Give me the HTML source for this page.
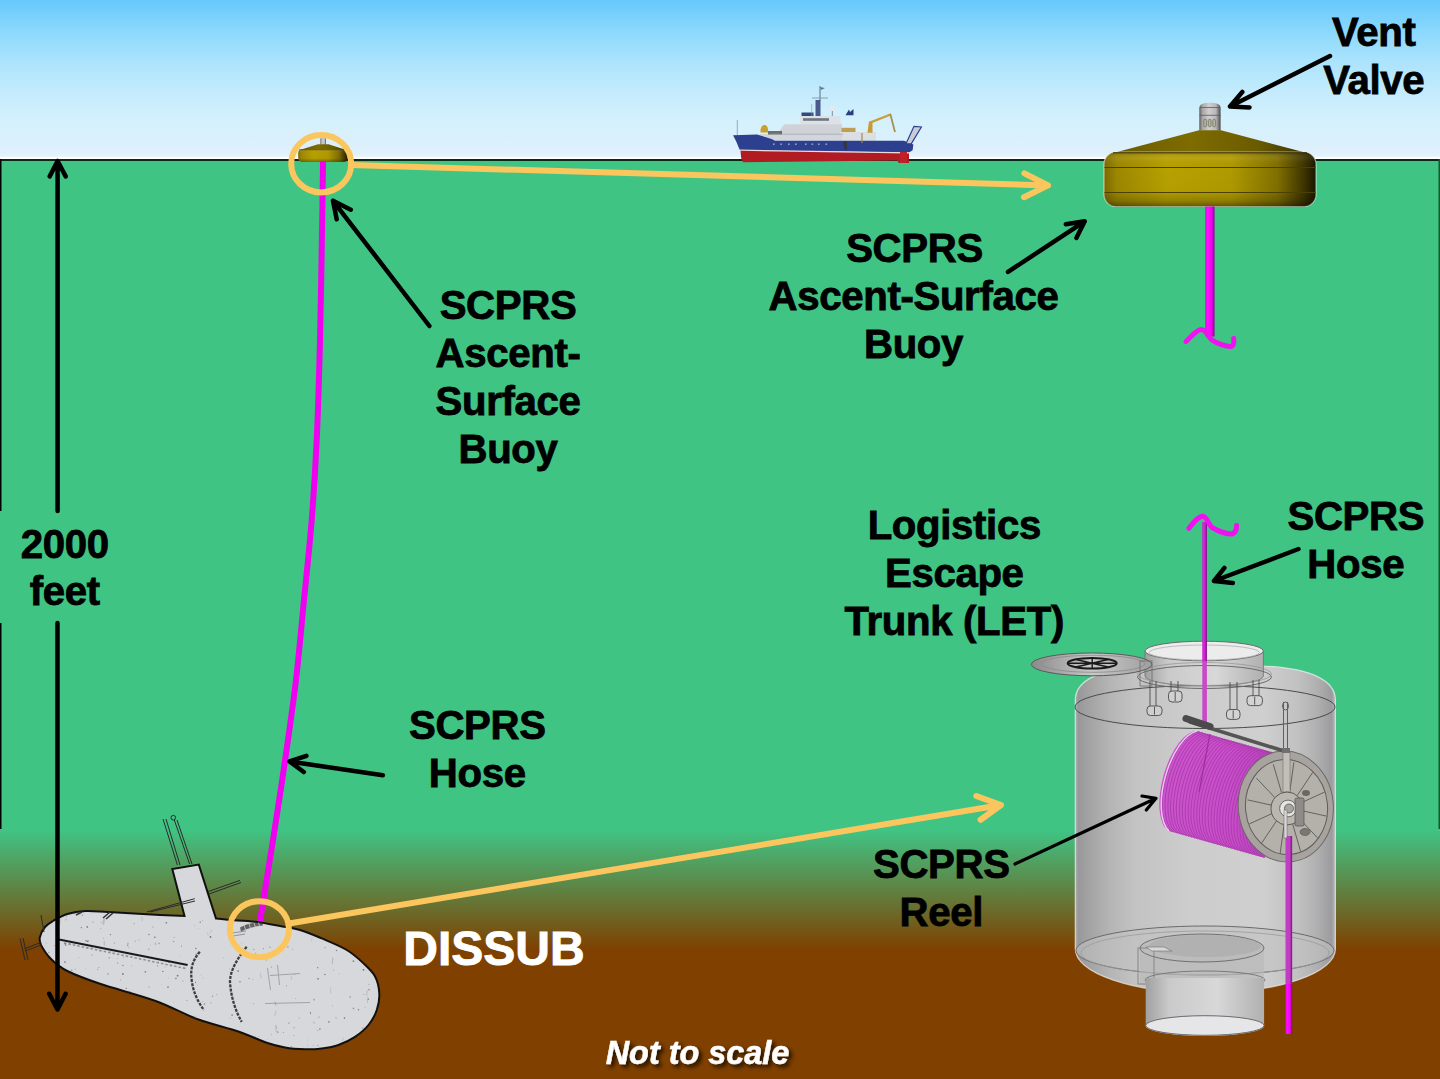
<!DOCTYPE html>
<html><head><meta charset="utf-8">
<style>
html,body{margin:0;padding:0;width:1440px;height:1079px;overflow:hidden;background:#40c484;}
svg{display:block;}
text{font-family:"Liberation Sans",sans-serif;font-weight:bold;}
</style></head>
<body>
<svg width="1440" height="1079" viewBox="0 0 1440 1079">
<defs>
<linearGradient id="sky" x1="0" y1="0" x2="0" y2="1">
<stop offset="0" stop-color="#66c8fc"/>
<stop offset="0.19" stop-color="#8ad8fd"/>
<stop offset="0.38" stop-color="#aae3fc"/>
<stop offset="0.57" stop-color="#c3ebfc"/>
<stop offset="0.76" stop-color="#d4f1fc"/>
<stop offset="0.95" stop-color="#def0fc"/>
<stop offset="0.98" stop-color="#e4f3fc"/>
<stop offset="1" stop-color="#ffffff"/>
</linearGradient>
<linearGradient id="sea" x1="0" y1="0" x2="0" y2="1">
<stop offset="0" stop-color="#40c484"/>
<stop offset="1" stop-color="#7f4000"/>
</linearGradient>

<linearGradient id="buoyg" x1="0" x2="1" y1="0" y2="0">
<stop offset="0" stop-color="#7c6a00"/>
<stop offset="0.06" stop-color="#9c8800"/>
<stop offset="0.3" stop-color="#b7a100"/>
<stop offset="0.6" stop-color="#b09a00"/>
<stop offset="0.82" stop-color="#806f00"/>
<stop offset="0.95" stop-color="#3a3100"/>
<stop offset="1" stop-color="#1a1500"/>
</linearGradient>
<linearGradient id="buoyv" x1="0" x2="0" y1="0" y2="1">
<stop offset="0" stop-color="#000" stop-opacity="0.2"/>
<stop offset="0.12" stop-color="#fff" stop-opacity="0.06"/>
<stop offset="0.3" stop-color="#000" stop-opacity="0"/>
<stop offset="0.72" stop-color="#000" stop-opacity="0.02"/>
<stop offset="0.9" stop-color="#000" stop-opacity="0.2"/>
<stop offset="1" stop-color="#000" stop-opacity="0.45"/>
</linearGradient>
<linearGradient id="coneg" x1="0" x2="1" y1="0" y2="0">
<stop offset="0" stop-color="#6a5a00"/>
<stop offset="0.4" stop-color="#7e6c00"/>
<stop offset="0.75" stop-color="#6a5b00"/>
<stop offset="1" stop-color="#3a3200"/>
</linearGradient>
<linearGradient id="valveg" x1="0" x2="1" y1="0" y2="0">
<stop offset="0" stop-color="#5e5e5e"/>
<stop offset="0.15" stop-color="#a8a6a6"/>
<stop offset="0.45" stop-color="#d0cece"/>
<stop offset="0.78" stop-color="#b8b6b6"/>
<stop offset="1" stop-color="#4a4a4a"/>
</linearGradient>
<linearGradient id="hoseg" x1="0" x2="1" y1="0" y2="0">
<stop offset="0" stop-color="#e000e0"/>
<stop offset="0.25" stop-color="#ff10ff"/>
<stop offset="0.7" stop-color="#f000f0"/>
<stop offset="1" stop-color="#8a0090"/>
</linearGradient>
<linearGradient id="hoseg2" x1="0" x2="1" y1="0" y2="0">
<stop offset="0" stop-color="#c818c8"/>
<stop offset="0.35" stop-color="#e028e0"/>
<stop offset="0.7" stop-color="#c010c8"/>
<stop offset="1" stop-color="#6a1070"/>
</linearGradient>
<linearGradient id="letg" x1="0" x2="1" y1="0" y2="0">
<stop offset="0" stop-color="#b0b0b0"/>
<stop offset="0.012" stop-color="#98989c"/>
<stop offset="0.05" stop-color="#a2a2a2"/>
<stop offset="0.13" stop-color="#b4b4b4"/>
<stop offset="0.23" stop-color="#c3c3c3"/>
<stop offset="0.45" stop-color="#cdcdcd"/>
<stop offset="0.72" stop-color="#cfcfcf"/>
<stop offset="0.85" stop-color="#c2c2c2"/>
<stop offset="0.93" stop-color="#b0b0b0"/>
<stop offset="0.985" stop-color="#9c9ca0"/>
<stop offset="1" stop-color="#b8b8b8"/>
</linearGradient>
<linearGradient id="neckg" x1="0" x2="1" y1="0" y2="0">
<stop offset="0" stop-color="#a0a0a0"/>
<stop offset="0.2" stop-color="#cacaca"/>
<stop offset="0.6" stop-color="#d8d8d8"/>
<stop offset="1" stop-color="#b0b0b0"/>
</linearGradient>
<linearGradient id="lidg" x1="0" x2="1" y1="0" y2="0">
<stop offset="0" stop-color="#8a8a8a"/>
<stop offset="0.5" stop-color="#c8c8c8"/>
<stop offset="1" stop-color="#a0a0a0"/>
</linearGradient>
<linearGradient id="drumg" x1="0" x2="1" y1="0" y2="0">
<stop offset="0" stop-color="#cc54cc"/>
<stop offset="0.5" stop-color="#ca4eca"/>
<stop offset="1" stop-color="#b440b8"/>
</linearGradient>
<filter id="shadow" x="-10%" y="-30%" width="130%" height="180%">
<feGaussianBlur in="SourceAlpha" stdDeviation="2"/>
<feOffset dx="2.5" dy="3" result="b"/>
<feFlood flood-color="#000" flood-opacity="0.75"/>
<feComposite in2="b" operator="in"/>
<feMerge><feMergeNode/><feMergeNode in="SourceGraphic"/></feMerge>
</filter>
<clipPath id="hullclip"><path d="M40.8 944.6 C40.6 943.4 39.1 940.3 39.8 937.4 C40.5 934.5 42.8 929.7 45.0 927.0 C47.2 924.3 49.3 923.2 53.0 921.0 C56.7 918.8 61.9 915.7 67.3 914.0 C72.7 912.3 78.8 911.3 85.6 911.0 C92.4 910.7 98.5 911.5 108.0 912.0 C117.5 912.5 129.9 913.3 142.7 914.0 C155.4 914.7 177.5 915.7 184.5 916.0 L172.3 869 L198.8 864.6 L216 918.5 C218.3 918.8 223.5 919.5 230.0 920.0 C236.5 920.5 246.7 920.7 255.0 921.7 C263.3 922.7 272.5 924.5 280.0 925.9 C287.5 927.3 293.0 927.9 300.0 930.0 C307.0 932.1 314.0 935.1 321.8 938.4 C329.6 941.7 339.9 945.8 346.8 950.0 C353.8 954.2 358.8 958.9 363.5 963.4 C368.2 967.9 372.6 971.7 375.2 976.7 C377.8 981.7 379.0 987.9 379.3 993.4 C379.6 998.9 378.6 1004.7 376.8 1010.0 C375.0 1015.3 372.1 1020.5 368.5 1025.0 C364.9 1029.5 360.0 1033.5 355.0 1036.8 C350.0 1040.1 344.0 1043.0 338.5 1045.0 C333.0 1047.0 327.4 1047.8 321.8 1048.5 C316.2 1049.2 311.1 1049.5 305.0 1049.3 C298.9 1049.1 291.4 1048.6 285.0 1047.5 C278.6 1046.4 274.4 1045.4 266.7 1042.8 C259.0 1040.2 250.6 1035.7 239.0 1031.7 C227.4 1027.7 210.9 1024.1 197.0 1019.0 C183.1 1013.9 171.8 1006.9 155.6 1001.0 C139.4 995.1 114.7 988.8 100.0 983.8 C85.3 978.8 75.5 975.1 67.3 971.0 C59.1 966.9 55.4 963.4 51.0 959.0 C46.6 954.6 42.7 948.2 40.8 944.6 Z"/></clipPath>
</defs>
<!-- background -->
<rect x="0" y="0" width="1440" height="159" fill="url(#sky)"/>
<rect x="0" y="159" width="1440" height="672" fill="#40c484"/>
<rect x="0" y="830" width="1440" height="120" fill="url(#sea)"/>
<rect x="0" y="949" width="1440" height="130" fill="#7f4000"/>
<rect x="0" y="157.2" width="1440" height="1.8" fill="#ffffff"/>
<rect x="0" y="159" width="1440" height="2" fill="#0a2a18"/>
<rect x="0" y="159" width="1.5" height="352" fill="#000"/>
<rect x="0" y="623" width="1.5" height="206" fill="#000"/>
<rect x="1438.5" y="159" width="1.5" height="670" fill="#0a5a30"/>


<!-- ship -->
<g id="ship">
<line x1="737.3" y1="120" x2="737.3" y2="136" stroke="#8898a8" stroke-width="0.8"/>
<line x1="820" y1="86" x2="820" y2="101" stroke="#5a6a8a" stroke-width="1"/>
<path d="M820 87 L825 88 L821 90 Z" fill="#6070a0"/>
<line x1="812" y1="98" x2="828" y2="98" stroke="#7a8aa0" stroke-width="0.8"/>
<rect x="815.5" y="100" width="5" height="16" fill="#4a5a8c"/>
<circle cx="832.3" cy="108.3" r="2.8" fill="#e4e8ec"/>
<line x1="832.3" y1="111" x2="832.3" y2="116.5" stroke="#8090a0" stroke-width="1"/>
<path d="M845.5 115.3 L849 109.5 L850 112 L853.5 109 L853.5 115.3 Z" fill="#2c3e7c"/>
<rect x="801.5" y="112.5" width="12" height="4" fill="#34467e"/>
<path d="M800 116 L840 116 L841 124.5 L800 124.5 Z" fill="#dde0e4"/>
<rect x="803" y="118.2" width="26" height="2.6" fill="#4a5262" opacity="0.75"/>
<path d="M784.5 124.3 L842 124.3 L842 134 L779.5 134 L780 130 Z" fill="#cfd3d7"/>
<path d="M840 132 L876 132 L876 144 L840 144 Z" fill="#dcdfe2"/>

<path d="M757.8 134 L842 134 L842 140.8 L775 140.8 L771.7 138.9 Z" fill="#d2d6da"/>
<rect x="768" y="131" width="14" height="3.5" fill="#3a3a3a" opacity="0.7"/>
<rect x="841.5" y="127.8" width="14" height="4.2" fill="#c0a050"/>
<line x1="771" y1="134.2" x2="843" y2="134.2" stroke="#9aa0a8" stroke-width="0.7"/>
<line x1="811.7" y1="104" x2="811.7" y2="116" stroke="#8a9ab0" stroke-width="0.6"/>
<path d="M733 135.2 L757 134.5 L771.7 138.9 L775 140.8 L904 140.8 L913.4 144.6 L912.6 150.3 L909 152.5 L740 150.3 C737.5 145 736 140 733 135.2 Z" fill="#2d3f8f"/>
<path d="M740 149.6 L909 152.3 L909 153.6 L740.5 151 Z" fill="#eedada"/>
<path d="M740.5 150.8 L909 153.5 L909 163 L899 163 L897 160.5 L743 162.3 L741.2 158 Z" fill="#b01c22"/>
<rect x="900" y="152" width="7" height="11" fill="#c02028"/>
<g fill="#e8ecf4" opacity="0.8">
<rect x="773" y="143.6" width="1.6" height="1.1"/><rect x="780.3" y="143.6" width="1.6" height="1.1"/><rect x="788" y="143.6" width="1.6" height="1.1"/><rect x="795" y="143.6" width="1.6" height="1.1"/><rect x="805" y="143.6" width="1.6" height="1.1"/><rect x="811.5" y="143.6" width="1.6" height="1.1"/><rect x="818" y="143.6" width="1.6" height="1.1"/><rect x="825.5" y="143.6" width="1.6" height="1.1"/>
</g>
<path d="M760.5 132.6 C760 128 762 125 764.5 125 C767 125 768.5 128 768 132.6 Z" fill="#c8a030"/>
<path d="M867.4 132.8 L869 121.5 L872.5 121.5 L872.5 132.8 Z" fill="#c89a38"/>
<path d="M869.6 121.5 L890.7 113.2 L891 115.5 L871 123.5 Z" fill="#c8a040"/>
<line x1="890.3" y1="114" x2="895" y2="132" stroke="#a89050" stroke-width="1.8"/>
<line x1="862" y1="133" x2="862" y2="143" stroke="#9a8a60" stroke-width="1.2"/>
<path d="M906 143.8 L914 126.3 L921.4 127 L911.2 143.8 Z" fill="#c8ccd8" stroke="#2d3f8f" stroke-width="1.2"/>
<path d="M843 144 C843 141 846 140 847 142 L847 150 L845 150 Z" fill="#303848"/>
</g>

<!-- small buoy -->
<g id="sbuoy">
<rect x="320.4" y="137.8" width="5.6" height="7.5" rx="1.5" fill="url(#valveg)"/>
<path d="M318 144.3 L328.5 144.3 L345.5 149.8 L300.5 149.8 Z" fill="url(#coneg)"/>
<rect x="298.2" y="149.2" width="49.6" height="12.6" rx="4" fill="url(#buoyg)"/>
<rect x="298.2" y="149.2" width="49.6" height="12.6" rx="4" fill="url(#buoyv)"/>
<line x1="299" y1="149.8" x2="347" y2="149.8" stroke="#3a3000" stroke-width="0.6"/>
</g>
<!-- left hose -->
<path d="M323.0 161.0 C322.9 167.5 323.0 170.2 322.5 200.0 C322.0 229.8 321.0 300.0 320.0 340.0 C319.0 380.0 318.1 410.0 316.7 440.0 C315.3 470.0 313.9 492.2 311.7 520.0 C309.5 547.8 305.9 580.3 303.3 607.0 C300.7 633.7 299.0 654.5 296.0 680.0 C293.0 705.5 288.9 733.3 285.1 760.0 C281.3 786.7 277.3 812.7 273.0 840.0 C268.7 867.3 261.8 910.0 259.5 924.0" fill="none" stroke="#f000f0" stroke-width="6"/>

<!-- big buoy -->
<g id="bbuoy">
<path d="M1199.3 130.5 L1199.3 108 C1199.3 104.5 1203 102.7 1210 102.7 C1217 102.7 1220.6 104.5 1220.6 108 L1220.6 130.5 Z" fill="url(#valveg)"/>
<path d="M1200 107.5 L1220 107.5 M1199.5 115.3 L1220.5 115.3" stroke="#5a5a5a" stroke-width="0.8"/>
<g fill="#b4b49a" stroke="#6a6a60" stroke-width="0.7"><rect x="1203.8" y="119.3" width="2.8" height="7.5" rx="1.3"/><rect x="1208.3" y="119.3" width="2.8" height="7.5" rx="1.3"/><rect x="1212.8" y="119.3" width="2.8" height="7.5" rx="1.3"/></g>
<path d="M1199 130.3 L1221 130.3 L1306 152.8 L1114 152.8 Z" fill="url(#coneg)"/>
<rect x="1104" y="152" width="212" height="54.5" rx="12" fill="url(#buoyg)" stroke="#ffffff" stroke-opacity="0.55" stroke-width="1.2"/>
<rect x="1104" y="152" width="212" height="54.5" rx="12" fill="url(#buoyv)"/>
<path d="M1113 152.8 L1307 152.8" stroke="#3a3000" stroke-width="1"/>
<path d="M1104.5 167.5 L1315.5 167.5 M1104.5 192.5 L1315.5 192.5" stroke="#4a4000" stroke-width="1"/>
</g>
<!-- right upper hose -->
<rect x="1205.3" y="206.5" width="9.2" height="130" fill="url(#hoseg)"/>
<path d="M1186 341.5 C1191 337 1196 330 1201 329.5 C1206 329 1208 337 1212 340 C1217 343.5 1226 346.5 1231 346.5 C1234 346 1234 342 1233.7 338.5" fill="none" stroke="#f010f0" stroke-width="5" stroke-linecap="round"/>

<!-- LET -->
<g id="let">
<path d="M1075.3 700 C1075.3 681 1098 668 1150 666 L1262 666 C1312 668 1335.4 681 1335.4 700 L1335.4 949 A130 44 0 0 1 1075.3 949 Z" fill="url(#letg)" stroke="#f4f4f4" stroke-opacity="0.7" stroke-width="1.2"/>
<!-- dome seam -->
<ellipse cx="1205" cy="707" rx="130" ry="21.5" fill="none" stroke="#4a4a4a" stroke-width="1"/>
<!-- bottom seam & interior -->
<ellipse cx="1205" cy="950.5" rx="129" ry="24.5" fill="#c2c2c2" fill-opacity="0.6" stroke="#6a6a6a" stroke-width="1"/>
<ellipse cx="1205" cy="953" rx="124" ry="22" fill="none" stroke="#9a9a9a" stroke-width="0.8"/>
<!-- inner bottom hatch -->
<path d="M1140 950 L1140 985 L1264 985 L1264 950 Z" fill="#b8b8b8" opacity="0.6"/>
<ellipse cx="1202" cy="948" rx="62" ry="14" fill="#bcbcbc" stroke="#707070" stroke-width="1"/>
<ellipse cx="1205" cy="946" rx="56" ry="11" fill="#aaaaaa" opacity="0.6"/>
<rect x="1138" y="948" width="16" height="36" fill="none" stroke="#7a7a7a" stroke-width="0.8"/>
<path d="M1146 947 L1164 947 L1172 951 L1152 951 Z" fill="#d8d8d8" stroke="#707070" stroke-width="0.6"/>
<ellipse cx="1205" cy="980" rx="60" ry="9" fill="none" stroke="#6a6a6a" stroke-width="0.8"/>
<!-- bottom nozzle -->
<path d="M1145.7 978 L1145.7 1026 A59.2 10 0 0 0 1264.1 1026 L1264.1 978 Z" fill="url(#neckg)"/>
<ellipse cx="1204.9" cy="1025.5" rx="59.2" ry="9.8" fill="#e6e6e8" stroke="#6a6a6a" stroke-width="1"/>
<!-- top neck -->
<path d="M1145 651 L1145 676 A59.2 10 0 0 0 1263.4 676 L1263.4 651 Z" fill="url(#neckg)" stroke="#707070" stroke-width="0.8"/>
<ellipse cx="1204.2" cy="651" rx="59.2" ry="9.8" fill="#ececec" stroke="#6a6a6a" stroke-width="1"/>
<ellipse cx="1204.2" cy="652.5" rx="55" ry="7.5" fill="none" stroke="#b0b0b0" stroke-width="0.8"/>
<ellipse cx="1204.5" cy="677" rx="67" ry="11.5" fill="none" stroke="#6a6a6a" stroke-width="1"/>
<ellipse cx="1204.5" cy="674" rx="67" ry="11.5" fill="none" stroke="#909090" stroke-width="0.7"/>
<!-- legs -->
<g fill="none" stroke="#4a4a4a" stroke-width="0.9">
<path d="M1150.0 681.0 L1150.0 706.0 M1156.0 681.0 L1156.0 706.0"/>
<rect x="1147.0" y="706.0" width="15.0" height="9.5" rx="3.5" fill="#d8d8d8" fill-opacity="0.5"/>
<path d="M1154.5 707.0 L1154.5 714.5"/>
<path d="M1171.0 681.0 L1171.0 691.0 M1178.0 681.0 L1178.0 691.0"/>
<rect x="1168.5" y="691.0" width="13.5" height="11.0" rx="3.5" fill="#d8d8d8" fill-opacity="0.5"/>
<path d="M1175.2 692.0 L1175.2 701.0"/>
<path d="M1230.0 682.0 L1230.0 709.5 M1237.0 682.0 L1237.0 709.5"/>
<rect x="1226.5" y="709.5" width="13.5" height="9.9" rx="3.5" fill="#d8d8d8" fill-opacity="0.5"/>
<path d="M1233.2 710.5 L1233.2 718.4"/>
<path d="M1253.0 680.0 L1253.0 695.7 M1259.0 680.0 L1259.0 695.7"/>
<rect x="1247.0" y="695.7" width="15.4" height="9.9" rx="3.5" fill="#d8d8d8" fill-opacity="0.5"/>
<path d="M1254.7 696.7 L1254.7 704.6"/>
</g>
<!-- hatch lid -->
<ellipse cx="1091.6" cy="664.4" rx="60.3" ry="11.4" fill="url(#lidg)" stroke="#5a5a5a" stroke-width="1"/>
<ellipse cx="1093" cy="663.8" rx="52" ry="8.5" fill="none" stroke="#8a8a8a" stroke-width="0.8"/>
<ellipse cx="1092.2" cy="663.2" rx="24.5" ry="5.3" fill="none" stroke="#1a1a1a" stroke-width="2"/>
<path d="M1068 663.2 L1116.5 663.2 M1092.2 658 L1092.2 668.5 M1076 659.5 L1108 667 M1076 667 L1108 659.5" stroke="#1a1a1a" stroke-width="1.4"/>
<rect x="1140" y="661" width="12" height="25" fill="none" stroke="#6a6a6a" stroke-width="0.8"/>
</g>

<rect x="1202.3" y="522" width="4.6" height="140" fill="url(#hoseg2)"/>
<rect x="1202.3" y="661" width="4.6" height="62" fill="#c84ac8"/>
<!-- reel -->
<g id="reel">
<path d="M1197.0 731.1 L1293.0 758.1 L1265.0 857.9 L1169.0 830.9 A22.0 52.0 15.7 0 1 1197.0 731.1 Z" fill="url(#drumg)"/>
<path d="M1199.9 731.9 A22.0 52.0 15.7 0 0 1171.8 831.7 M1202.8 732.7 A22.0 52.0 15.7 0 0 1174.7 832.5 M1205.7 733.5 A22.0 52.0 15.7 0 0 1177.6 833.3 M1208.6 734.3 A22.0 52.0 15.7 0 0 1180.5 834.2 M1211.4 735.1 A22.0 52.0 15.7 0 0 1183.4 835.0 M1214.3 735.9 A22.0 52.0 15.7 0 0 1186.2 835.8 M1217.2 736.8 A22.0 52.0 15.7 0 0 1189.1 836.6 M1220.1 737.6 A22.0 52.0 15.7 0 0 1192.0 837.4 M1223.0 738.4 A22.0 52.0 15.7 0 0 1194.9 838.2 M1225.8 739.2 A22.0 52.0 15.7 0 0 1197.8 839.0 M1228.7 740.0 A22.0 52.0 15.7 0 0 1200.6 839.8 M1231.6 740.8 A22.0 52.0 15.7 0 0 1203.5 840.6 M1234.5 741.6 A22.0 52.0 15.7 0 0 1206.4 841.4 M1237.4 742.4 A22.0 52.0 15.7 0 0 1209.3 842.3 M1240.2 743.2 A22.0 52.0 15.7 0 0 1212.2 843.1 M1243.1 744.0 A22.0 52.0 15.7 0 0 1215.0 843.9 M1246.0 744.9 A22.0 52.0 15.7 0 0 1217.9 844.7 M1248.9 745.7 A22.0 52.0 15.7 0 0 1220.8 845.5 M1251.8 746.5 A22.0 52.0 15.7 0 0 1223.7 846.3 M1254.6 747.3 A22.0 52.0 15.7 0 0 1226.6 847.1 M1257.5 748.1 A22.0 52.0 15.7 0 0 1229.4 847.9 M1260.4 748.9 A22.0 52.0 15.7 0 0 1232.3 848.7 M1263.3 749.7 A22.0 52.0 15.7 0 0 1235.2 849.5 M1266.2 750.5 A22.0 52.0 15.7 0 0 1238.1 850.4 M1269.0 751.3 A22.0 52.0 15.7 0 0 1241.0 851.2 M1271.9 752.1 A22.0 52.0 15.7 0 0 1243.8 852.0 M1274.8 753.0 A22.0 52.0 15.7 0 0 1246.7 852.8 M1277.7 753.8 A22.0 52.0 15.7 0 0 1249.6 853.6 M1280.6 754.6 A22.0 52.0 15.7 0 0 1252.5 854.4 M1283.4 755.4 A22.0 52.0 15.7 0 0 1255.4 855.2 M1286.3 756.2 A22.0 52.0 15.7 0 0 1258.2 856.0 M1289.2 757.0 A22.0 52.0 15.7 0 0 1261.1 856.8 M1292.1 757.8 A22.0 52.0 15.7 0 0 1264.0 857.6" fill="none" stroke="#a236a6" stroke-width="1" opacity="0.75"/>
<path d="M1197.0 731.1 A23.0 53.0 15.7 0 0 1169.0 830.9" fill="none" stroke="#f0e4f0" stroke-width="1.4" opacity="0.85"/>
<line x1="1210" y1="734" x2="1199" y2="792" stroke="#9a309a" stroke-width="1.2"/>
<!-- flange -->
<ellipse cx="1285.8" cy="806.5" rx="47.5" ry="55.5" transform="rotate(-6 1285.8 806.5)" fill="#a8a39e" stroke="#6a6a66" stroke-width="1"/>
<ellipse cx="1286.5" cy="807" rx="41" ry="47.5" transform="rotate(-6 1286.5 807)" fill="#b4b0aa" stroke="#5e5e5a" stroke-width="1"/>
<g stroke="#5a5a56" stroke-width="0.9"><line x1="1302.8" y1="810.9" x2="1326.4" y2="816.1"/><line x1="1299.3" y1="818.6" x2="1317.6" y2="837.9"/><line x1="1292.5" y1="823.5" x2="1300.7" y2="851.7"/><line x1="1284.2" y1="824.2" x2="1280.1" y2="853.8"/><line x1="1276.7" y1="820.6" x2="1261.3" y2="843.6"/><line x1="1272.0" y1="813.6" x2="1249.4" y2="823.9"/><line x1="1271.2" y1="805.1" x2="1247.6" y2="799.9"/><line x1="1274.7" y1="797.4" x2="1256.4" y2="778.1"/><line x1="1281.5" y1="792.5" x2="1273.3" y2="764.3"/><line x1="1289.8" y1="791.8" x2="1293.9" y2="762.2"/><line x1="1297.3" y1="795.4" x2="1312.7" y2="772.4"/><line x1="1302.0" y1="802.4" x2="1324.6" y2="792.1"/></g>
<rect x="1283" y="752" width="7" height="40" fill="#c2beb8" stroke="#77746f" stroke-width="0.6"/>
<ellipse cx="1287" cy="808.5" rx="16" ry="16.5" fill="#bab6b0" stroke="#5a5a56" stroke-width="1"/>
<circle cx="1288" cy="808.5" r="8.4" fill="#e6e4e0" stroke="#6a6a66" stroke-width="1"/>
<circle cx="1289" cy="808.5" r="4.5" fill="#a8a6a2" stroke="#555" stroke-width="0.8"/>
<rect x="1295" y="798" width="9" height="28" rx="1.5" fill="#8e8c88" stroke="#444" stroke-width="0.6"/>
<ellipse cx="1306" cy="793" rx="4" ry="3" fill="#6a6864"/>
<ellipse cx="1305" cy="832" rx="5" ry="3.5" fill="#7a7874" stroke="#444" stroke-width="0.5"/>
<!-- top rod -->
<path d="M1190 722 L1284 751" stroke="#555555" stroke-width="3.6" stroke-linecap="round"/>
<path d="M1186 718.5 L1210 726.5" stroke="#4a4a4a" stroke-width="7" stroke-linecap="round"/>
<!-- turnbuckle -->
<path d="M1283.5 702 L1283.5 748 M1287.5 702 L1287.5 748" stroke="#606060" stroke-width="1"/>
<ellipse cx="1285.5" cy="706" rx="3" ry="4" fill="none" stroke="#606060" stroke-width="1"/>
<rect x="1282" y="748" width="8" height="5" fill="#707070"/>
</g>
<!-- LET hoses -->
<rect x="1285.5" y="836" width="6.6" height="150" fill="#c23cc6"/>
<rect x="1290.6" y="836" width="1.5" height="150" fill="#7a2a80"/>
<rect x="1285.5" y="984" width="6.6" height="50" fill="url(#hoseg)"/>
<rect x="1284" y="810" width="3" height="28" fill="#d8d8d8" stroke="#666" stroke-width="0.5"/>
<path d="M1188.8 528.4 C1193 523 1198 516.5 1202.8 516.3 C1207 516.5 1208 524 1212 527.5 C1218 531 1226 534 1232 534 C1235.5 533 1236.6 529 1236.6 525.6" fill="none" stroke="#f010f0" stroke-width="5" stroke-linecap="round"/>

<!-- submarine -->
<g id="sub">
<path d="M40.8 944.6 C40.6 943.4 39.1 940.3 39.8 937.4 C40.5 934.5 42.8 929.7 45.0 927.0 C47.2 924.3 49.3 923.2 53.0 921.0 C56.7 918.8 61.9 915.7 67.3 914.0 C72.7 912.3 78.8 911.3 85.6 911.0 C92.4 910.7 98.5 911.5 108.0 912.0 C117.5 912.5 129.9 913.3 142.7 914.0 C155.4 914.7 177.5 915.7 184.5 916.0 L172.3 869 L198.8 864.6 L216 918.5 C218.3 918.8 223.5 919.5 230.0 920.0 C236.5 920.5 246.7 920.7 255.0 921.7 C263.3 922.7 272.5 924.5 280.0 925.9 C287.5 927.3 293.0 927.9 300.0 930.0 C307.0 932.1 314.0 935.1 321.8 938.4 C329.6 941.7 339.9 945.8 346.8 950.0 C353.8 954.2 358.8 958.9 363.5 963.4 C368.2 967.9 372.6 971.7 375.2 976.7 C377.8 981.7 379.0 987.9 379.3 993.4 C379.6 998.9 378.6 1004.7 376.8 1010.0 C375.0 1015.3 372.1 1020.5 368.5 1025.0 C364.9 1029.5 360.0 1033.5 355.0 1036.8 C350.0 1040.1 344.0 1043.0 338.5 1045.0 C333.0 1047.0 327.4 1047.8 321.8 1048.5 C316.2 1049.2 311.1 1049.5 305.0 1049.3 C298.9 1049.1 291.4 1048.6 285.0 1047.5 C278.6 1046.4 274.4 1045.4 266.7 1042.8 C259.0 1040.2 250.6 1035.7 239.0 1031.7 C227.4 1027.7 210.9 1024.1 197.0 1019.0 C183.1 1013.9 171.8 1006.9 155.6 1001.0 C139.4 995.1 114.7 988.8 100.0 983.8 C85.3 978.8 75.5 975.1 67.3 971.0 C59.1 966.9 55.4 963.4 51.0 959.0 C46.6 954.6 42.7 948.2 40.8 944.6 Z" fill="#d6d8dc" stroke="#111" stroke-width="2"/>
<g clip-path="url(#hullclip)" fill="#2a2a2a"><circle cx="152.8" cy="926.9" r="0.71" opacity="0.28"/><circle cx="223.4" cy="958.0" r="0.38" opacity="0.43"/><circle cx="57.5" cy="967.9" r="0.39" opacity="0.28"/><circle cx="186.4" cy="1024.9" r="0.42" opacity="0.33"/><circle cx="253.9" cy="1042.4" r="0.67" opacity="0.39"/><circle cx="370.1" cy="911.8" r="0.82" opacity="0.35"/><circle cx="93.0" cy="922.1" r="0.52" opacity="0.54"/><circle cx="105.2" cy="989.3" r="0.70" opacity="0.38"/><circle cx="227.4" cy="914.1" r="0.38" opacity="0.32"/><circle cx="271.6" cy="967.0" r="0.52" opacity="0.45"/><circle cx="195.9" cy="948.5" r="0.79" opacity="0.49"/><circle cx="126.3" cy="988.3" r="0.64" opacity="0.56"/><circle cx="287.9" cy="946.8" r="0.89" opacity="0.29"/><circle cx="184.2" cy="1014.8" r="0.43" opacity="0.42"/><circle cx="58.1" cy="1001.9" r="0.77" opacity="0.45"/><circle cx="336.5" cy="950.5" r="0.73" opacity="0.46"/><circle cx="238.1" cy="971.1" r="0.81" opacity="0.58"/><circle cx="202.9" cy="1001.3" r="0.38" opacity="0.50"/><circle cx="260.5" cy="1049.0" r="0.80" opacity="0.35"/><circle cx="173.5" cy="1002.0" r="0.36" opacity="0.41"/><circle cx="101.0" cy="922.0" r="0.38" opacity="0.52"/><circle cx="88.1" cy="940.9" r="0.57" opacity="0.55"/><circle cx="71.8" cy="970.1" r="0.65" opacity="0.56"/><circle cx="317.8" cy="1030.3" r="0.50" opacity="0.40"/><circle cx="164.5" cy="1033.2" r="0.88" opacity="0.30"/><circle cx="103.7" cy="938.6" r="0.48" opacity="0.42"/><circle cx="241.2" cy="943.1" r="0.35" opacity="0.40"/><circle cx="168.0" cy="987.1" r="0.87" opacity="0.49"/><circle cx="216.7" cy="994.6" r="0.72" opacity="0.27"/><circle cx="344.5" cy="1018.1" r="0.83" opacity="0.53"/><circle cx="175.7" cy="962.9" r="0.41" opacity="0.47"/><circle cx="65.7" cy="914.8" r="0.46" opacity="0.31"/><circle cx="158.2" cy="912.6" r="0.35" opacity="0.30"/><circle cx="78.8" cy="957.7" r="0.36" opacity="0.56"/><circle cx="249.5" cy="926.5" r="0.49" opacity="0.37"/><circle cx="166.3" cy="922.8" r="0.82" opacity="0.60"/><circle cx="200.2" cy="975.2" r="0.40" opacity="0.29"/><circle cx="159.1" cy="943.4" r="0.81" opacity="0.31"/><circle cx="52.7" cy="1042.9" r="0.64" opacity="0.30"/><circle cx="225.9" cy="908.9" r="0.64" opacity="0.59"/><circle cx="332.5" cy="1005.9" r="0.49" opacity="0.38"/><circle cx="100.6" cy="1016.9" r="0.64" opacity="0.52"/><circle cx="154.8" cy="937.3" r="0.80" opacity="0.59"/><circle cx="328.9" cy="1021.9" r="0.80" opacity="0.51"/><circle cx="120.5" cy="980.1" r="0.55" opacity="0.26"/><circle cx="54.3" cy="945.5" r="0.49" opacity="0.49"/><circle cx="363.5" cy="969.8" r="0.87" opacity="0.60"/><circle cx="363.0" cy="957.9" r="0.47" opacity="0.33"/><circle cx="110.5" cy="934.6" r="0.69" opacity="0.57"/><circle cx="324.9" cy="974.5" r="0.71" opacity="0.53"/><circle cx="73.2" cy="1000.8" r="0.85" opacity="0.52"/><circle cx="294.8" cy="974.3" r="0.45" opacity="0.53"/><circle cx="155.7" cy="1021.1" r="0.88" opacity="0.39"/><circle cx="178.7" cy="1042.3" r="0.75" opacity="0.31"/><circle cx="87.3" cy="926.9" r="0.85" opacity="0.53"/><circle cx="93.7" cy="1024.8" r="0.89" opacity="0.48"/><circle cx="161.7" cy="984.6" r="0.42" opacity="0.25"/><circle cx="368.3" cy="999.2" r="0.64" opacity="0.58"/><circle cx="189.5" cy="1031.4" r="0.80" opacity="0.32"/><circle cx="128.9" cy="947.5" r="0.48" opacity="0.46"/><circle cx="131.4" cy="965.8" r="0.42" opacity="0.57"/><circle cx="162.8" cy="971.4" r="0.67" opacity="0.57"/><circle cx="185.1" cy="1038.1" r="0.63" opacity="0.44"/><circle cx="219.3" cy="907.7" r="0.59" opacity="0.31"/><circle cx="46.3" cy="1020.9" r="0.44" opacity="0.42"/><circle cx="286.5" cy="985.7" r="0.53" opacity="0.43"/><circle cx="230.0" cy="1018.7" r="0.41" opacity="0.45"/><circle cx="127.7" cy="945.2" r="0.77" opacity="0.43"/><circle cx="232.1" cy="1015.2" r="0.85" opacity="0.41"/><circle cx="249.0" cy="978.3" r="0.63" opacity="0.49"/><circle cx="195.6" cy="982.3" r="0.61" opacity="0.58"/><circle cx="277.8" cy="1032.1" r="0.87" opacity="0.34"/><circle cx="231.3" cy="1041.8" r="0.81" opacity="0.30"/><circle cx="85.5" cy="969.1" r="0.39" opacity="0.33"/><circle cx="69.3" cy="1002.1" r="0.78" opacity="0.56"/><circle cx="96.4" cy="1008.8" r="0.71" opacity="0.30"/><circle cx="339.0" cy="1045.3" r="0.47" opacity="0.58"/><circle cx="177.6" cy="975.7" r="0.89" opacity="0.54"/><circle cx="98.8" cy="967.6" r="0.63" opacity="0.37"/><circle cx="110.2" cy="951.2" r="0.75" opacity="0.26"/><circle cx="229.5" cy="968.9" r="0.36" opacity="0.37"/><circle cx="252.8" cy="979.3" r="0.39" opacity="0.59"/><circle cx="307.5" cy="1045.9" r="0.41" opacity="0.34"/><circle cx="58.2" cy="1018.0" r="0.50" opacity="0.30"/><circle cx="185.6" cy="1037.2" r="0.80" opacity="0.34"/><circle cx="94.7" cy="1038.3" r="0.66" opacity="0.50"/><circle cx="74.8" cy="913.3" r="0.73" opacity="0.40"/><circle cx="69.1" cy="1041.1" r="0.70" opacity="0.53"/><circle cx="72.9" cy="1029.2" r="0.39" opacity="0.55"/><circle cx="196.1" cy="954.2" r="0.65" opacity="0.57"/><circle cx="134.2" cy="923.7" r="0.64" opacity="0.33"/><circle cx="81.4" cy="928.4" r="0.38" opacity="0.32"/><circle cx="148.9" cy="949.2" r="0.77" opacity="0.35"/><circle cx="211.5" cy="930.8" r="0.54" opacity="0.26"/><circle cx="128.4" cy="907.2" r="0.75" opacity="0.44"/><circle cx="108.1" cy="973.8" r="0.86" opacity="0.29"/><circle cx="317.7" cy="967.7" r="0.62" opacity="0.54"/><circle cx="175.9" cy="978.5" r="0.73" opacity="0.59"/><circle cx="159.1" cy="1025.7" r="0.74" opacity="0.47"/><circle cx="179.8" cy="955.4" r="0.38" opacity="0.30"/><circle cx="68.6" cy="1012.4" r="0.49" opacity="0.31"/><circle cx="73.1" cy="1027.0" r="0.83" opacity="0.48"/><circle cx="138.9" cy="940.1" r="0.51" opacity="0.41"/><circle cx="97.5" cy="969.6" r="0.49" opacity="0.59"/><circle cx="368.9" cy="984.3" r="0.48" opacity="0.59"/><circle cx="148.1" cy="956.7" r="0.35" opacity="0.38"/><circle cx="203.1" cy="977.9" r="0.46" opacity="0.43"/><circle cx="46.6" cy="943.3" r="0.40" opacity="0.39"/><circle cx="58.9" cy="908.3" r="0.52" opacity="0.33"/><circle cx="240.0" cy="981.7" r="0.76" opacity="0.48"/><circle cx="283.4" cy="1032.5" r="0.56" opacity="0.36"/><circle cx="372.9" cy="926.7" r="0.75" opacity="0.48"/><circle cx="59.6" cy="1026.1" r="0.84" opacity="0.47"/><circle cx="289.4" cy="1022.8" r="0.43" opacity="0.43"/><circle cx="213.0" cy="1026.1" r="0.79" opacity="0.54"/><circle cx="239.5" cy="1034.5" r="0.73" opacity="0.49"/><circle cx="121.6" cy="909.5" r="0.42" opacity="0.38"/><circle cx="79.9" cy="1026.2" r="0.66" opacity="0.47"/><circle cx="253.5" cy="1003.7" r="0.62" opacity="0.25"/><circle cx="310.6" cy="1013.5" r="0.63" opacity="0.44"/><circle cx="264.5" cy="914.6" r="0.76" opacity="0.34"/><circle cx="69.8" cy="943.5" r="0.75" opacity="0.32"/><circle cx="291.4" cy="1046.5" r="0.62" opacity="0.38"/><circle cx="204.5" cy="1004.1" r="0.77" opacity="0.47"/><circle cx="259.0" cy="916.2" r="0.43" opacity="0.34"/><circle cx="292.5" cy="949.1" r="0.66" opacity="0.25"/><circle cx="65.2" cy="944.0" r="0.72" opacity="0.49"/><circle cx="270.0" cy="947.2" r="0.63" opacity="0.41"/><circle cx="200.3" cy="922.2" r="0.84" opacity="0.32"/><circle cx="370.7" cy="1040.8" r="0.36" opacity="0.41"/><circle cx="318.0" cy="1045.4" r="0.60" opacity="0.34"/><circle cx="114.9" cy="1042.1" r="0.47" opacity="0.45"/><circle cx="92.2" cy="981.0" r="0.87" opacity="0.30"/><circle cx="318.1" cy="978.8" r="0.84" opacity="0.50"/><circle cx="122.1" cy="1035.2" r="0.62" opacity="0.26"/><circle cx="46.2" cy="976.3" r="0.60" opacity="0.36"/><circle cx="91.9" cy="954.9" r="0.52" opacity="0.54"/><circle cx="45.6" cy="1013.9" r="0.81" opacity="0.29"/><circle cx="353.5" cy="1008.4" r="0.85" opacity="0.35"/><circle cx="168.9" cy="962.0" r="0.90" opacity="0.46"/><circle cx="165.1" cy="967.1" r="0.50" opacity="0.27"/><circle cx="78.9" cy="1026.0" r="0.51" opacity="0.58"/><circle cx="128.0" cy="943.5" r="0.63" opacity="0.32"/><circle cx="169.3" cy="1043.6" r="0.84" opacity="0.53"/><circle cx="255.1" cy="1037.4" r="0.87" opacity="0.44"/><circle cx="284.6" cy="912.2" r="0.75" opacity="0.41"/><circle cx="295.6" cy="998.5" r="0.51" opacity="0.27"/><circle cx="353.6" cy="923.5" r="0.61" opacity="0.37"/><circle cx="144.2" cy="1012.2" r="0.89" opacity="0.34"/><circle cx="263.4" cy="948.6" r="0.66" opacity="0.39"/><circle cx="100.7" cy="928.4" r="0.46" opacity="0.57"/><circle cx="210.5" cy="936.9" r="0.85" opacity="0.60"/><circle cx="194.8" cy="925.2" r="0.46" opacity="0.28"/><circle cx="158.9" cy="918.2" r="0.48" opacity="0.34"/><circle cx="234.7" cy="1033.7" r="0.76" opacity="0.39"/><circle cx="182.8" cy="981.0" r="0.56" opacity="0.37"/><circle cx="65.7" cy="945.2" r="0.88" opacity="0.29"/><circle cx="212.6" cy="996.3" r="0.82" opacity="0.33"/><circle cx="135.2" cy="941.0" r="0.57" opacity="0.41"/><circle cx="362.7" cy="1028.1" r="0.83" opacity="0.26"/><circle cx="55.7" cy="1007.9" r="0.84" opacity="0.42"/><circle cx="240.5" cy="905.0" r="0.57" opacity="0.57"/><circle cx="319.9" cy="1029.0" r="0.88" opacity="0.34"/><circle cx="81.3" cy="927.4" r="0.64" opacity="0.49"/><circle cx="358.5" cy="1009.7" r="0.71" opacity="0.52"/><circle cx="197.3" cy="985.0" r="0.37" opacity="0.52"/><circle cx="122.4" cy="1038.4" r="0.71" opacity="0.36"/><circle cx="87.6" cy="941.5" r="0.70" opacity="0.49"/><circle cx="82.3" cy="915.2" r="0.64" opacity="0.45"/><circle cx="174.2" cy="937.4" r="0.68" opacity="0.25"/><circle cx="145.4" cy="971.8" r="0.88" opacity="0.48"/><circle cx="339.3" cy="973.9" r="0.48" opacity="0.34"/><circle cx="364.9" cy="1007.2" r="0.52" opacity="0.26"/><circle cx="210.9" cy="1002.8" r="0.58" opacity="0.34"/><circle cx="267.2" cy="1039.1" r="0.47" opacity="0.26"/><circle cx="157.6" cy="966.0" r="0.73" opacity="0.32"/><circle cx="310.4" cy="1012.2" r="0.63" opacity="0.32"/><circle cx="368.0" cy="950.2" r="0.80" opacity="0.33"/><circle cx="118.7" cy="1015.3" r="0.51" opacity="0.58"/><circle cx="210.1" cy="932.2" r="0.47" opacity="0.40"/><circle cx="266.5" cy="1042.6" r="0.43" opacity="0.39"/><circle cx="115.9" cy="1046.2" r="0.43" opacity="0.27"/><circle cx="65.0" cy="962.0" r="0.84" opacity="0.56"/><circle cx="289.0" cy="1049.6" r="0.86" opacity="0.37"/><circle cx="106.8" cy="1040.7" r="0.76" opacity="0.26"/><circle cx="266.3" cy="959.9" r="0.56" opacity="0.37"/><circle cx="101.4" cy="905.4" r="0.50" opacity="0.37"/><circle cx="363.2" cy="922.9" r="0.88" opacity="0.32"/><circle cx="163.8" cy="1024.1" r="0.80" opacity="0.40"/><circle cx="61.4" cy="973.7" r="0.55" opacity="0.57"/><circle cx="109.3" cy="957.8" r="0.84" opacity="0.26"/><circle cx="181.8" cy="1022.7" r="0.77" opacity="0.26"/><circle cx="56.6" cy="914.1" r="0.86" opacity="0.34"/><circle cx="293.8" cy="1035.3" r="0.54" opacity="0.35"/><circle cx="363.9" cy="994.5" r="0.49" opacity="0.50"/><circle cx="150.4" cy="945.0" r="0.35" opacity="0.51"/><circle cx="350.2" cy="996.9" r="0.87" opacity="0.26"/><circle cx="122.9" cy="973.9" r="0.88" opacity="0.58"/><circle cx="173.7" cy="941.4" r="0.59" opacity="0.42"/><circle cx="354.1" cy="931.5" r="0.79" opacity="0.51"/><circle cx="319.0" cy="1017.1" r="0.68" opacity="0.36"/><circle cx="151.4" cy="957.5" r="0.78" opacity="0.28"/><circle cx="110.7" cy="1014.2" r="0.49" opacity="0.27"/><circle cx="56.3" cy="985.1" r="0.53" opacity="0.59"/><circle cx="339.2" cy="1048.2" r="0.50" opacity="0.28"/><circle cx="77.1" cy="977.3" r="0.74" opacity="0.41"/><circle cx="123.0" cy="965.4" r="0.69" opacity="0.49"/><circle cx="294.1" cy="1027.8" r="0.72" opacity="0.29"/><circle cx="325.0" cy="947.6" r="0.66" opacity="0.38"/><circle cx="290.8" cy="933.9" r="0.49" opacity="0.34"/><circle cx="96.1" cy="1033.2" r="0.67" opacity="0.36"/><circle cx="176.9" cy="1048.9" r="0.63" opacity="0.33"/><circle cx="314.2" cy="999.7" r="0.90" opacity="0.29"/><circle cx="203.1" cy="1023.8" r="0.81" opacity="0.57"/><circle cx="58.4" cy="947.6" r="0.42" opacity="0.32"/><circle cx="369.0" cy="989.6" r="0.86" opacity="0.38"/><circle cx="333.4" cy="970.1" r="0.49" opacity="0.52"/><circle cx="359.9" cy="920.3" r="0.68" opacity="0.47"/><circle cx="117.5" cy="958.5" r="0.43" opacity="0.32"/><circle cx="129.9" cy="991.9" r="0.71" opacity="0.32"/><circle cx="48.8" cy="952.5" r="0.72" opacity="0.31"/><circle cx="149.0" cy="934.5" r="0.79" opacity="0.44"/><circle cx="66.1" cy="919.7" r="0.57" opacity="0.44"/><circle cx="257.8" cy="918.2" r="0.44" opacity="0.49"/><circle cx="181.5" cy="946.1" r="0.52" opacity="0.58"/><circle cx="149.0" cy="987.1" r="0.55" opacity="0.40"/><circle cx="332.8" cy="1049.5" r="0.55" opacity="0.32"/><circle cx="287.4" cy="934.5" r="0.35" opacity="0.57"/><circle cx="186.1" cy="1024.0" r="0.57" opacity="0.56"/><circle cx="198.5" cy="928.6" r="0.36" opacity="0.44"/><circle cx="258.3" cy="1036.9" r="0.40" opacity="0.47"/><circle cx="168.5" cy="978.1" r="0.43" opacity="0.35"/><circle cx="218.5" cy="1039.2" r="0.41" opacity="0.42"/><circle cx="313.0" cy="1045.2" r="0.46" opacity="0.29"/><circle cx="359.0" cy="1046.5" r="0.62" opacity="0.27"/><circle cx="353.4" cy="961.2" r="0.85" opacity="0.47"/><circle cx="319.6" cy="928.2" r="0.78" opacity="0.33"/><circle cx="179.7" cy="1027.7" r="0.81" opacity="0.31"/><circle cx="117.6" cy="963.0" r="0.63" opacity="0.38"/><circle cx="86.0" cy="940.8" r="0.75" opacity="0.56"/><circle cx="58.7" cy="986.5" r="0.77" opacity="0.26"/><circle cx="324.1" cy="922.1" r="0.68" opacity="0.44"/><circle cx="253.8" cy="949.4" r="0.58" opacity="0.45"/><circle cx="186.8" cy="1000.5" r="0.60" opacity="0.40"/><circle cx="52.8" cy="994.7" r="0.62" opacity="0.33"/><circle cx="299.3" cy="1018.1" r="0.60" opacity="0.31"/><circle cx="202.6" cy="920.5" r="0.42" opacity="0.40"/><circle cx="75.5" cy="969.1" r="0.63" opacity="0.26"/><circle cx="256.9" cy="916.9" r="0.75" opacity="0.52"/><circle cx="215.3" cy="912.9" r="0.63" opacity="0.38"/><circle cx="361.6" cy="924.7" r="0.82" opacity="0.60"/><circle cx="288.8" cy="1023.2" r="0.46" opacity="0.59"/><circle cx="208.8" cy="1043.7" r="0.85" opacity="0.31"/><circle cx="307.5" cy="1039.9" r="0.39" opacity="0.37"/><circle cx="296.8" cy="928.0" r="0.84" opacity="0.35"/><circle cx="316.6" cy="925.8" r="0.63" opacity="0.57"/><circle cx="114.4" cy="943.1" r="0.63" opacity="0.36"/><circle cx="57.3" cy="931.4" r="0.44" opacity="0.58"/><circle cx="271.3" cy="1034.8" r="0.44" opacity="0.52"/><circle cx="83.3" cy="982.0" r="0.70" opacity="0.38"/><path d="M330.6 987.2 l0.2 6.4" stroke="#444" stroke-width="0.6" opacity="0.23"/><path d="M367.8 996.9 l-0.3 6.0" stroke="#444" stroke-width="0.6" opacity="0.28"/><path d="M367.1 990.1 l-0.4 5.8" stroke="#444" stroke-width="0.6" opacity="0.33"/><path d="M114.8 1011.7 l-1.4 6.1" stroke="#444" stroke-width="0.6" opacity="0.28"/><path d="M258.2 1042.9 l0.3 5.3" stroke="#444" stroke-width="0.6" opacity="0.29"/><path d="M60.6 919.4 l-1.1 5.1" stroke="#444" stroke-width="0.6" opacity="0.33"/><path d="M218.9 1031.4 l-1.1 3.1" stroke="#444" stroke-width="0.6" opacity="0.40"/><path d="M66.9 915.3 l-0.4 2.5" stroke="#444" stroke-width="0.6" opacity="0.31"/><path d="M129.5 990.9 l0.3 3.0" stroke="#444" stroke-width="0.6" opacity="0.39"/><path d="M207.2 932.5 l1.3 3.2" stroke="#444" stroke-width="0.6" opacity="0.24"/><path d="M89.7 998.0 l1.1 5.9" stroke="#444" stroke-width="0.6" opacity="0.32"/><path d="M141.9 916.5 l0.4 4.8" stroke="#444" stroke-width="0.6" opacity="0.31"/><path d="M260.1 972.7 l1.3 5.7" stroke="#444" stroke-width="0.6" opacity="0.27"/><path d="M340.1 920.7 l0.1 4.0" stroke="#444" stroke-width="0.6" opacity="0.27"/><path d="M78.1 1016.3 l-1.5 4.8" stroke="#444" stroke-width="0.6" opacity="0.48"/><path d="M104.1 940.9 l0.3 4.5" stroke="#444" stroke-width="0.6" opacity="0.39"/><path d="M312.1 937.7 l-0.6 3.5" stroke="#444" stroke-width="0.6" opacity="0.21"/><path d="M335.7 1016.8 l0.6 2.0" stroke="#444" stroke-width="0.6" opacity="0.45"/><path d="M291.0 975.5 l0.7 4.3" stroke="#444" stroke-width="0.6" opacity="0.27"/><path d="M92.6 945.2 l-1.4 3.7" stroke="#444" stroke-width="0.6" opacity="0.42"/><path d="M275.5 1024.9 l0.6 3.3" stroke="#444" stroke-width="0.6" opacity="0.37"/><path d="M195.2 1017.5 l0.1 3.3" stroke="#444" stroke-width="0.6" opacity="0.39"/><path d="M359.2 943.2 l1.1 2.1" stroke="#444" stroke-width="0.6" opacity="0.28"/><path d="M133.2 1011.7 l1.3 5.7" stroke="#444" stroke-width="0.6" opacity="0.30"/><path d="M332.9 957.7 l-0.8 6.5" stroke="#444" stroke-width="0.6" opacity="0.39"/><path d="M274.8 1001.5 l1.4 4.3" stroke="#444" stroke-width="0.6" opacity="0.45"/><path d="M276.3 1026.5 l-0.2 5.6" stroke="#444" stroke-width="0.6" opacity="0.37"/><path d="M155.4 942.6 l0.4 2.4" stroke="#444" stroke-width="0.6" opacity="0.47"/><path d="M104.8 918.5 l-1.2 6.6" stroke="#444" stroke-width="0.6" opacity="0.30"/><path d="M104.0 918.7 l-1.4 5.5" stroke="#444" stroke-width="0.6" opacity="0.39"/><path d="M276.1 1010.8 l-1.3 5.0" stroke="#444" stroke-width="0.6" opacity="0.31"/><path d="M313.4 1021.5 l1.2 2.3" stroke="#444" stroke-width="0.6" opacity="0.46"/><path d="M343.5 1037.8 l-1.2 3.0" stroke="#444" stroke-width="0.6" opacity="0.23"/><path d="M70.7 1025.2 l0.9 5.2" stroke="#444" stroke-width="0.6" opacity="0.45"/><path d="M255.8 952.4 l-1.2 2.5" stroke="#444" stroke-width="0.6" opacity="0.43"/><path d="M123.5 956.5 l-0.2 2.1" stroke="#444" stroke-width="0.6" opacity="0.28"/><path d="M147.6 1008.0 l-0.4 3.6" stroke="#444" stroke-width="0.6" opacity="0.49"/><path d="M216.2 1025.7 l0.4 2.2" stroke="#444" stroke-width="0.6" opacity="0.32"/><path d="M195.3 1015.5 l-0.5 5.5" stroke="#444" stroke-width="0.6" opacity="0.36"/><path d="M127.1 1027.1 l-1.2 6.1" stroke="#444" stroke-width="0.6" opacity="0.25"/></g>
<path d="M64 943 L186 968.5" stroke="#5a5a5a" stroke-width="1.6" stroke-dasharray="2.5 2" opacity="0.55"/>
<path d="M76 915 L82 912 M103 918 L110 912 M106 919 L113 913" stroke="#333" stroke-width="1.5"/>
<path d="M59 939.5 L187.6 965" stroke="#1a1a1a" stroke-width="2.2"/>
<path d="M199.8 951.7 C193 960 190 968 191.7 980 C193 992 198 1002 204 1010" fill="none" stroke="#3e3e3e" stroke-width="2.3" stroke-dasharray="3 1.2"/>
<path d="M246.7 946.7 C238 958 230 970 230 982 C231 998 236 1012 241.7 1021.8" fill="none" stroke="#3e3e3e" stroke-width="2.3" stroke-dasharray="3 1.2"/>
<g stroke="#2a2a2a" stroke-width="1" fill="none">
<path d="M163 819 L177.4 865 M166 819 L180 865 M174.3 820 L189.6 864 M177 820 L192 864"/>
<circle cx="173.3" cy="817.7" r="2.3"/>
<path d="M208 891.6 L240 880.4 M209 894 L241 882.5"/>
<path d="M194.7 898.7 L146.8 912 M195 901 L150 912"/>
<path d="M20 938.5 L25 960 M23 938 L28 960 M24.5 948.7 L40.8 942.5 M25 951 L41 945 M41 915 L44 932"/>
</g>
<g fill="#3a3a3a" opacity="0.75">
<path d="M240 927.5 C246 924 254 922.5 262 922 L263 925.5 C255 926 247 928.5 241 931.5 Z" fill="#2a2a2a" opacity="0.9"/><path d="M244 925 L246 931 M249 923.8 L251 930 M254 923 L256 929 M258.5 922.5 L260 928" stroke="#d0d0d0" stroke-width="0.8"/><path d="M232 933 L246 931 M233 936 L245 934" stroke="#555" stroke-width="0.7"/>
<path opacity="0.45" d="M270 975 L300 973 L300 974 L270 976 Z M268 968 L271 990 L270 990 L267 968 Z M278 965 L280 985 L279 985 L277 965 Z M265 1003 L310 1002 L310 1003 L265 1004 Z"/>
</g>
</g>

<!-- yellow markers -->
<g fill="none" stroke="#fcc65e" stroke-width="6" stroke-linecap="round" stroke-linejoin="round">
<ellipse cx="321.2" cy="163.7" rx="30" ry="28.7"/>
<path d="M351 165 L1048 185.4 M1024.4 173.3 L1048 185.4 L1024 197.2"/>
<ellipse cx="259.4" cy="929.2" rx="29.5" ry="28"/>
<path d="M289 923.5 L1001 805 M976.3 796 L1001 805 L980.6 819.8"/>
</g>

<!-- texts -->
<g font-size="40.2" fill="#000" stroke="#000" stroke-width="0.8" letter-spacing="-0.35" text-anchor="middle">
<text x="1373.7" y="46">Vent</text>
<text x="1373.7" y="94">Valve</text>
<text x="508" y="319.3">SCPRS</text>
<text x="508" y="367.2">Ascent-</text>
<text x="508" y="414.5">Surface</text>
<text x="508" y="462.7">Buoy</text>
<text x="914.5" y="262.4">SCPRS</text>
<text x="913.5" y="310.4">Ascent-Surface</text>
<text x="913.5" y="358.3">Buoy</text>
<text x="64.8" y="557.5">2000</text>
<text x="64.8" y="605">feet</text>
<text x="954.3" y="538.5">Logistics</text>
<text x="954.3" y="586.8">Escape</text>
<text x="954.3" y="634.5">Trunk (LET)</text>
<text x="1355.8" y="530.3">SCPRS</text>
<text x="1355.8" y="578">Hose</text>
<text x="477.3" y="738.9">SCPRS</text>
<text x="477.3" y="786.5">Hose</text>
<text x="941.3" y="878">SCPRS</text>
<text x="941.3" y="926">Reel</text>
</g>
<text x="493.9" y="964.5" font-size="48" fill="#fff" stroke="#fff" stroke-width="0.9" text-anchor="middle">DISSUB</text>
<text x="697.5" y="1064.4" font-size="32.4" font-style="italic" fill="#fff" stroke="#fff" stroke-width="0.5" text-anchor="middle" filter="url(#shadow)">Not to scale</text>
<!-- black arrows -->
<g fill="none" stroke="#000" stroke-width="4.5" stroke-linecap="round" stroke-linejoin="round">
<path d="M1330 56 L1230 106.5 M1242.3 92 L1230 106.5 L1249.5 107.4"/>
<path d="M429.4 326 L333 200.8 M350.8 209.7 L333 200.8 L336.7 219.3"/>
<path d="M1008 271.9 L1084.7 221.3 M1065.8 224.2 L1084.7 221.3 L1076.4 237.9"/>
<path d="M1298.5 549 L1214 581 M1224.4 567.9 L1214 581 L1232.8 582.9"/>
<path d="M382.9 775.2 L289.5 761.5 M306.4 755.8 L289.5 761.5 L303.8 772"/>
<path d="M57.6 511 L57.6 161 M49.7 176.4 L57.6 161 L65.7 176.4"/>
<path d="M57.5 623 L57.5 1009.5 M49.2 993.8 L57.5 1009.5 L65.6 993.8"/>
<path stroke-width="3.2" d="M1015 864 L1156 798.3 M1142 796 L1156 798.3 L1146.3 810"/>
</g>
</svg>
</body></html>
